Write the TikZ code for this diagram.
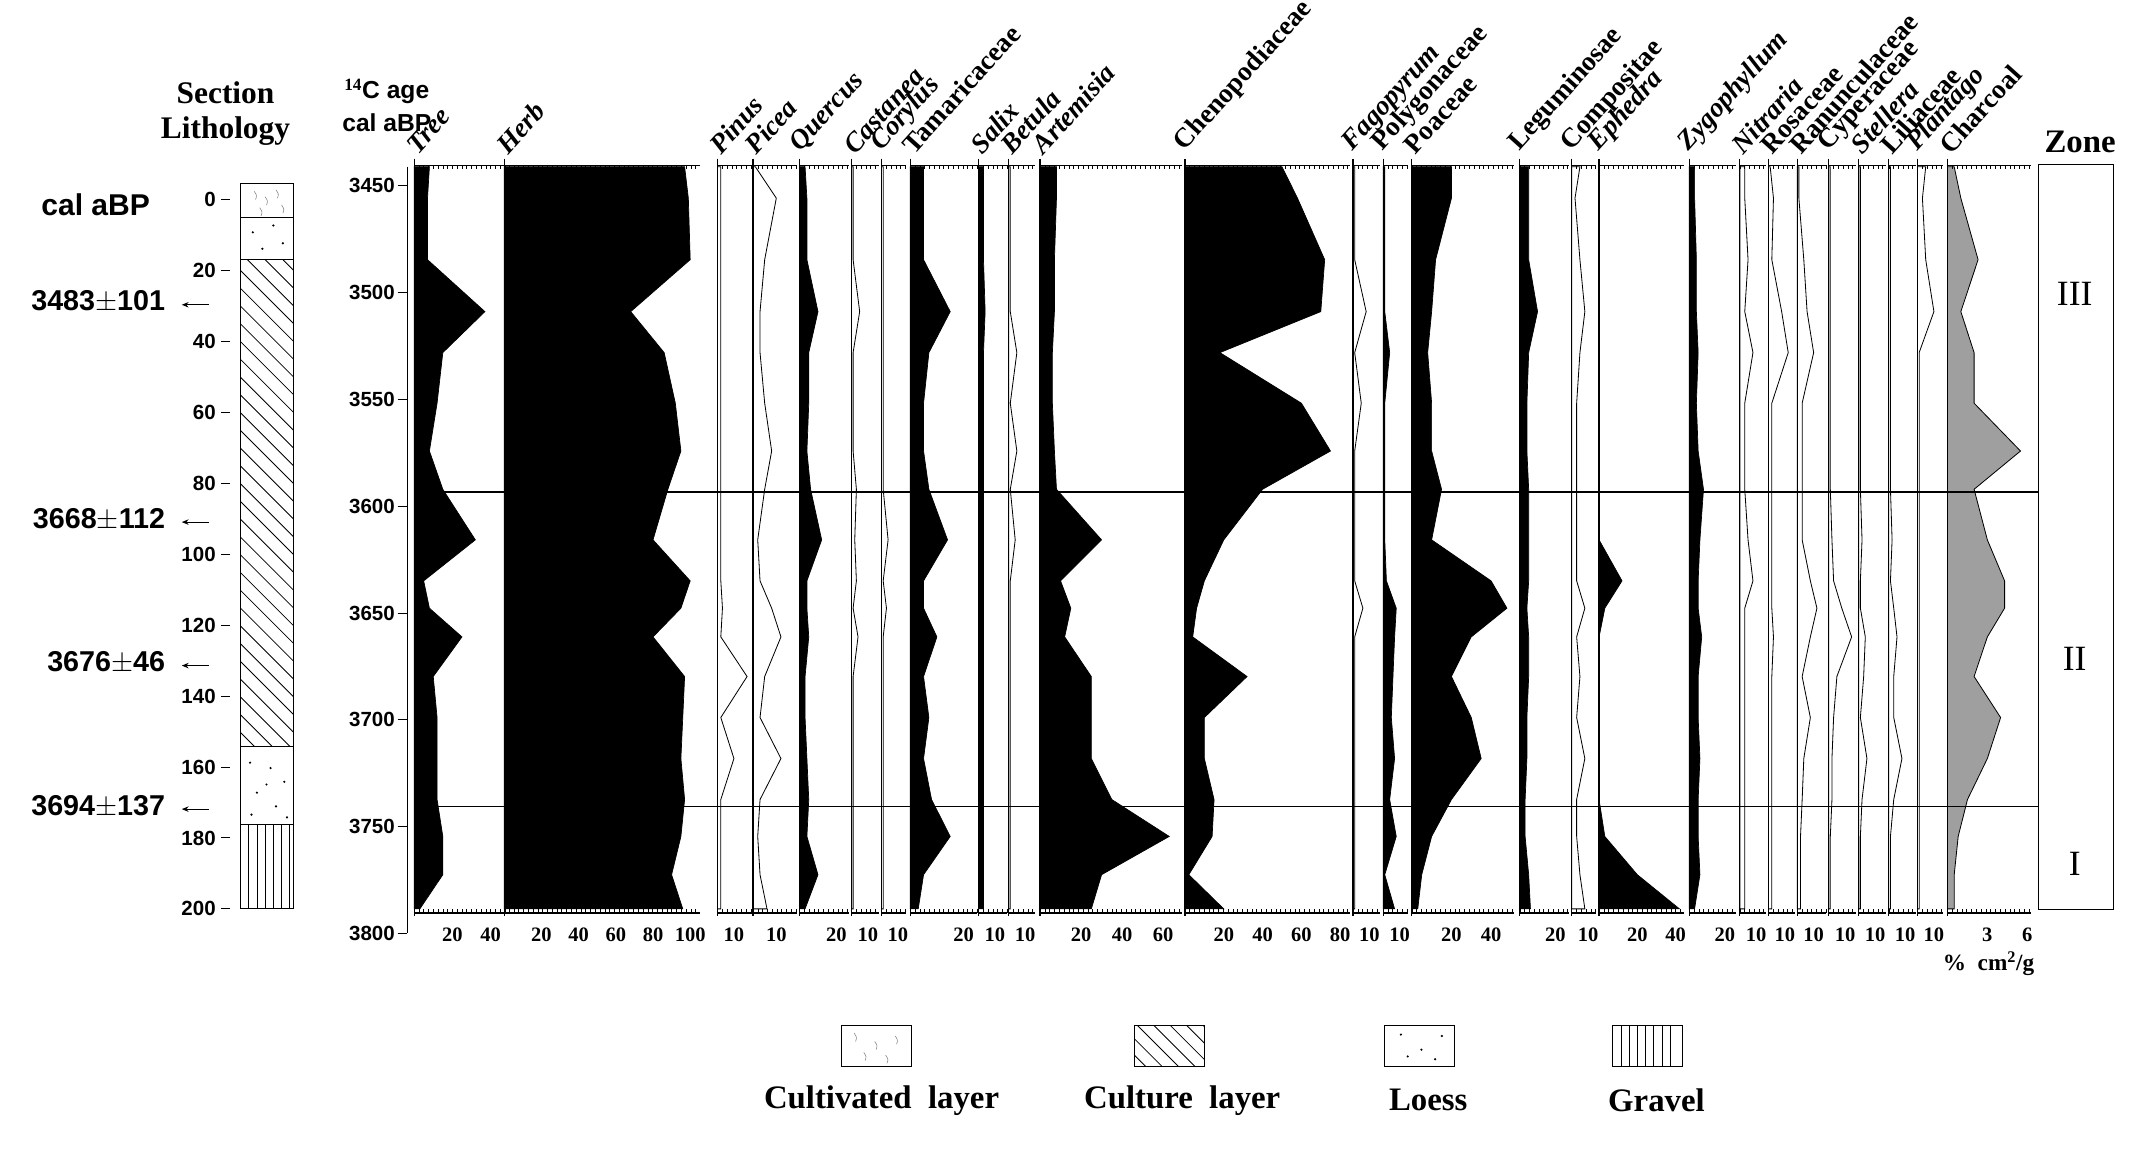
\documentclass[tikz,border=0pt]{standalone}
\usepackage{fontspec}
\setmainfont{Liberation Serif}
\newfontfamily\sansf{Liberation Sans}
\usetikzlibrary{arrows.meta}
\def\Ys{{122,145,190,228,258,295,330,358,395,425,445,466,495,525,555,585,612,640,665}}
\tikzset{
 axis/.style={line width=0.9pt},
 blk/.style={fill=black,draw=black,line width=0.5pt},
 otl/.style={draw=black,line width=0.6pt},
 gry/.style={fill=gray!75,draw=black,line width=0.6pt},
 tick/.style={font=\fontsize{15}{15}\selectfont\bfseries,inner sep=0pt},
 head/.style={font=\fontsize{20}{20}\selectfont\bfseries,anchor=south west,rotate=48,inner sep=0pt},
 sanslab/.style={font=\sansf\fontsize{15}{15}\selectfont\bfseries,inner sep=0pt}
}
\newcommand\pcol[8]{%
 \path[#4] (#1,122) \foreach \v [count=\i] in {#5} { -- ({#1+#3*\v},{\Ys[\i-1]}) } -- (#1,665) -- cycle;
 \draw[axis] (#1,116) -- (#1,670);
 \draw[axis] (#1,121) -- (#2,121) (#1,668) -- (#2,668);
 \pgfmathtruncatemacro\nt{(#2-#1)/3.5}
 \foreach \j in {0,...,\nt} \draw[line width=0.4pt] ({#1+3.5*\j},121) -- ++(0,3) ({#1+3.5*\j},668) -- ++(0,-3);
 \foreach \t in {#6} \node[tick] at ({#1+#3*\t},684) {\t};
 \node[head] at (#1+3,114) {#8#7};
}
\begin{document}
\begin{tikzpicture}[x=1pt,y=-1pt]
\useasboundingbox (0,0) rectangle (1568,841);
% left header
\node[font=\fontsize{23}{23}\selectfont\bfseries] (sec) at (165,68) {Section};
\node[font=\fontsize{23}{23}\selectfont\bfseries] (lit) at (165,96) {Lithology};
\node[font=\sansf\fontsize{18}{18}\selectfont\bfseries] (c14) at (283,67) {$^{\mathbf{14}}$C age};
\node[font=\sansf\fontsize{18}{18}\selectfont\bfseries] (cal2) at (283,90) {cal aBP};
\node[font=\sansf\fontsize{22}{22}\selectfont\bfseries] (cal1) at (70,150) {cal aBP};
% lithology column
\begin{scope}
\clip (176,134) rectangle (215,665);
\foreach \s in {120,133,...,560} \draw[line width=0.6pt] (176,\s) -- ++(60,60);
\fill[white] (176,134) rectangle (215,190) (176,546) rectangle (215,665);
\foreach \px/\py in {185/170,200/165,192/182,207/178,183/558,198/562,208/572,188/580,202/590,184/596,195/574,210/598}
  \fill (\px,\py) circle (0.9);
\foreach \xx in {182,188,...,212} \draw[line width=0.6pt] (\xx,603) -- (\xx,665);
\foreach \px/\py in {186/140,194/144,202/139,206/150,190/152}
  \draw[gray,line width=0.4pt] (\px,\py) .. controls (\px+2,\py+3) .. (\px+1,\py+6);
\end{scope}
\draw[line width=0.8pt] (176,134) rectangle (215,665);
\draw[line width=0.8pt] (176,159) -- (215,159) (176,190) -- (215,190) (176,546) -- (215,546) (176,603) -- (215,603);
\foreach \d in {0,20,...,200} {
  \node[sanslab,anchor=east] at (158,{146+\d*2.595}) {\d};
  \draw[line width=0.7pt] (162,{146+\d*2.595}) -- (168,{146+\d*2.595});
}
\foreach \dt/\yy in {3483$\pm$101/221,3668$\pm$112/380,3676$\pm$46/485,3694$\pm$137/590} {
  \node[font=\sansf\fontsize{21}{21}\selectfont\bfseries,anchor=east,inner sep=0pt] at (121,\yy) {\dt};
  \draw[-{Stealth[length=5pt,width=4pt]},line width=0.7pt] (153,\yy+2) -- (133,\yy+2);
}
% age axis
\draw[axis] (298,122) -- (298,683);
\foreach \a in {3450,3500,...,3800} {
  \node[sanslab,anchor=east] at (289,{683-(3800-\a)*1.563}) {\a};
  \draw[line width=0.7pt] (291,{683-(3800-\a)*1.563}) -- (298,{683-(3800-\a)*1.563});
}
% columns
\pcol{303}{370}{1.4}{blk}{8,7,7,37,15,12,8,15,32,5,8,25,10,12,12,12,15,15,3}{20,40}{Tree}{\itshape}
\pcol{369}{512}{1.36}{blk}{97,99,100,68,86,92,95,88,80,100,95,80,97,96,95,97,95,90,96}{20,40,60,80,100}{Herb}{\itshape}
\pcol{525}{550}{1.2}{otl}{2,2,2,2,2,2,2,2,2,2,3,2,18,2,10,2,2,2,2}{10}{Pinus}{\itshape}
\pcol{551}{583}{1.7}{otl}{1,10,5,3,3,5,8,5,2,3,8,12,5,3,12,3,2,3,6}{10}{Picea}{\itshape}
\pcol{585}{621}{1.35}{blk}{3,4,4,10,5,5,4,6,12,4,4,5,3,3,4,5,4,10,3}{20}{Quercus}{\itshape}
\pcol{623}{643}{1.2}{otl}{1,1,1,5,1,1,1,3,2,3,1,4,1,1,1,1,1,1,1}{10}{Castanea}{\itshape}
\pcol{645}{663}{1.2}{otl}{1,1,1,1,1,1,1,1,4,1,3,1,1,1,1,1,1,1,1}{10}{Corylus}{\itshape}
\pcol{666}{715}{1.95}{blk}{5,5,5,15,7,5,5,7,14,5,5,10,5,7,5,8,15,5,3}{20}{Tamaricaceae}{}
\pcol{716}{737}{1.2}{blk}{3,3,3,4,3,3,3,3,3,3,3,3,3,3,3,3,3,3,3}{10}{Salix}{\itshape}
\pcol{738}{757}{1.2}{otl}{1,1,1,1,5,1,5,1,4,1,1,1,1,1,1,1,1,1,1}{10}{Betula}{\itshape}
\pcol{761}{865}{1.5}{blk}{8,8,7,7,6,6,7,8,30,10,15,12,25,25,25,35,63,30,25}{20,40,60}{Artemisia}{\itshape}
\pcol{867}{988}{1.42}{blk}{50,58,72,70,18,60,75,40,20,10,6,4,32,10,10,15,14,2,20}{20,40,60,80}{Chenopodiaceae}{}
\pcol{990}{1010}{1.2}{otl}{1,1,1,8,1,5,1,1,1,1,6,1,1,1,1,1,1,1,1}{10}{Fagopyrum}{\itshape}
\pcol{1012}{1030}{1.2}{blk}{1,1,1,1,4,1,1,1,1,2,8,7,6,5,7,4,8,1,7}{10}{Polygonaceae}{}
\pcol{1033}{1108}{1.45}{blk}{20,20,12,10,8,10,10,15,10,40,48,30,20,30,35,20,10,5,3}{20,40}{Poaceae}{}
\pcol{1112}{1148}{1.3}{blk}{5,5,5,10,5,4,4,5,5,5,4,5,5,4,4,3,3,5,6}{20}{Leguminosae}{}
\pcol{1150}{1168}{1.2}{otl}{5,2,5,8,5,3,3,3,3,3,8,3,5,3,8,3,3,5,8}{10}{Compositae}{}
\pcol{1170}{1232}{1.4}{blk}{0,0,0,0,0,0,0,0,0,12,3,0,0,0,0,0,3,20,42}{20,40}{Ephedra}{\itshape}
\pcol{1236}{1270}{1.3}{blk}{3,3,4,4,5,4,5,8,6,5,5,7,5,5,6,5,5,6,3}{20}{Zygophyllum}{\itshape}
\pcol{1273}{1292}{1.2}{otl}{3,3,5,3,8,3,3,3,5,8,3,3,3,3,3,3,3,3,3}{10}{Nitraria}{\itshape}
\pcol{1294}{1313}{1.2}{otl}{1,3,2,8,12,2,2,2,2,2,2,3,2,2,2,2,2,2,2}{10}{Rosaceae}{}
\pcol{1315}{1336}{1.2}{otl}{1,1,4,6,10,3,3,3,3,8,12,8,3,8,4,3,2,2,2}{10}{Ranunculaceae}{}
\pcol{1338}{1358}{1.2}{otl}{1,1,1,1,1,1,1,1,2,3,8,14,5,3,2,2,1,1,1}{10}{Cyperaceae}{}
\pcol{1360}{1380}{1.2}{otl}{1,1,1,1,1,1,1,1,2,1,1,4,3,1,5,2,1,1,1}{10}{Stellera}{\itshape}
\pcol{1382}{1402}{1.2}{otl}{1,1,1,1,1,1,1,1,2,1,3,5,3,3,8,3,1,1,1}{10}{Liliaceae}{}
\pcol{1403}{1422}{1.2}{otl}{5,3,5,10,1,1,1,1,1,1,1,1,1,1,1,1,1,1,1}{10}{Plantago}{\itshape}
\pcol{1425}{1486}{9.7}{gry}{0.5,1,2.3,1,2,2,5.5,2,3,4.3,4.3,3,2,4,3,1.5,0.8,0.5,0.5}{3,6}{Charcoal}{}
\node[font=\fontsize{17}{17}\selectfont\bfseries] (units) at (1455,705) {\%\ \ cm$^{\mathbf 2}$/g};
% zones
\draw[line width=0.8pt] (303,360) -- (1491,360) (303,590) -- (1491,590);
\node[draw,line width=1pt,minimum width=55pt,minimum height=545pt,anchor=north west,inner sep=0pt] (zbox) at (1491,120) {};
\node[font=\fontsize{24}{24}\selectfont\bfseries] (zone) at (1522,104) {Zone};
\node[font=\fontsize{26}{26}\selectfont] (z3) at (1518,215) {III};
\node[font=\fontsize{26}{26}\selectfont] (z2) at (1518,482) {II};
\node[font=\fontsize{26}{26}\selectfont] (z1) at (1518,632) {I};
% legend
\draw[line width=0.8pt] (616,750) rectangle (667,780);
\foreach \px/\py in {625/756,640/762,655/758,632/770,648/772}
  \draw[gray,line width=0.4pt] (\px,\py) .. controls (\px+2,\py+3) .. (\px+1,\py+6);
\begin{scope}
\clip (830,750) rectangle (881,780);
\foreach \s in {700,712,...,780} \draw[line width=0.6pt] (830,\s) -- ++(60,60);
\end{scope}
\draw[line width=0.8pt] (830,750) rectangle (881,780);
\draw[line width=0.8pt] (1013,750) rectangle (1064,780);
\foreach \px/\py in {1025/757,1040/768,1055/758,1030/773,1050/775} \fill (\px,\py) circle (0.9);
\draw[line width=0.8pt] (1180,750) rectangle (1231,780);
\foreach \xx in {1186,1192,...,1226} \draw[line width=0.6pt] (\xx,750) -- (\xx,780);
\node[font=\fontsize{24}{24}\selectfont\bfseries] (l1) at (645,805) {Cultivated\ \ layer};
\node[font=\fontsize{24}{24}\selectfont\bfseries] (l2) at (865,805) {Culture\ \ layer};
\node[font=\fontsize{24}{24}\selectfont\bfseries] (l3) at (1045,805) {Loess};
\node[font=\fontsize{24}{24}\selectfont\bfseries] (l4) at (1212,805) {Gravel};
\end{tikzpicture}
\end{document}
